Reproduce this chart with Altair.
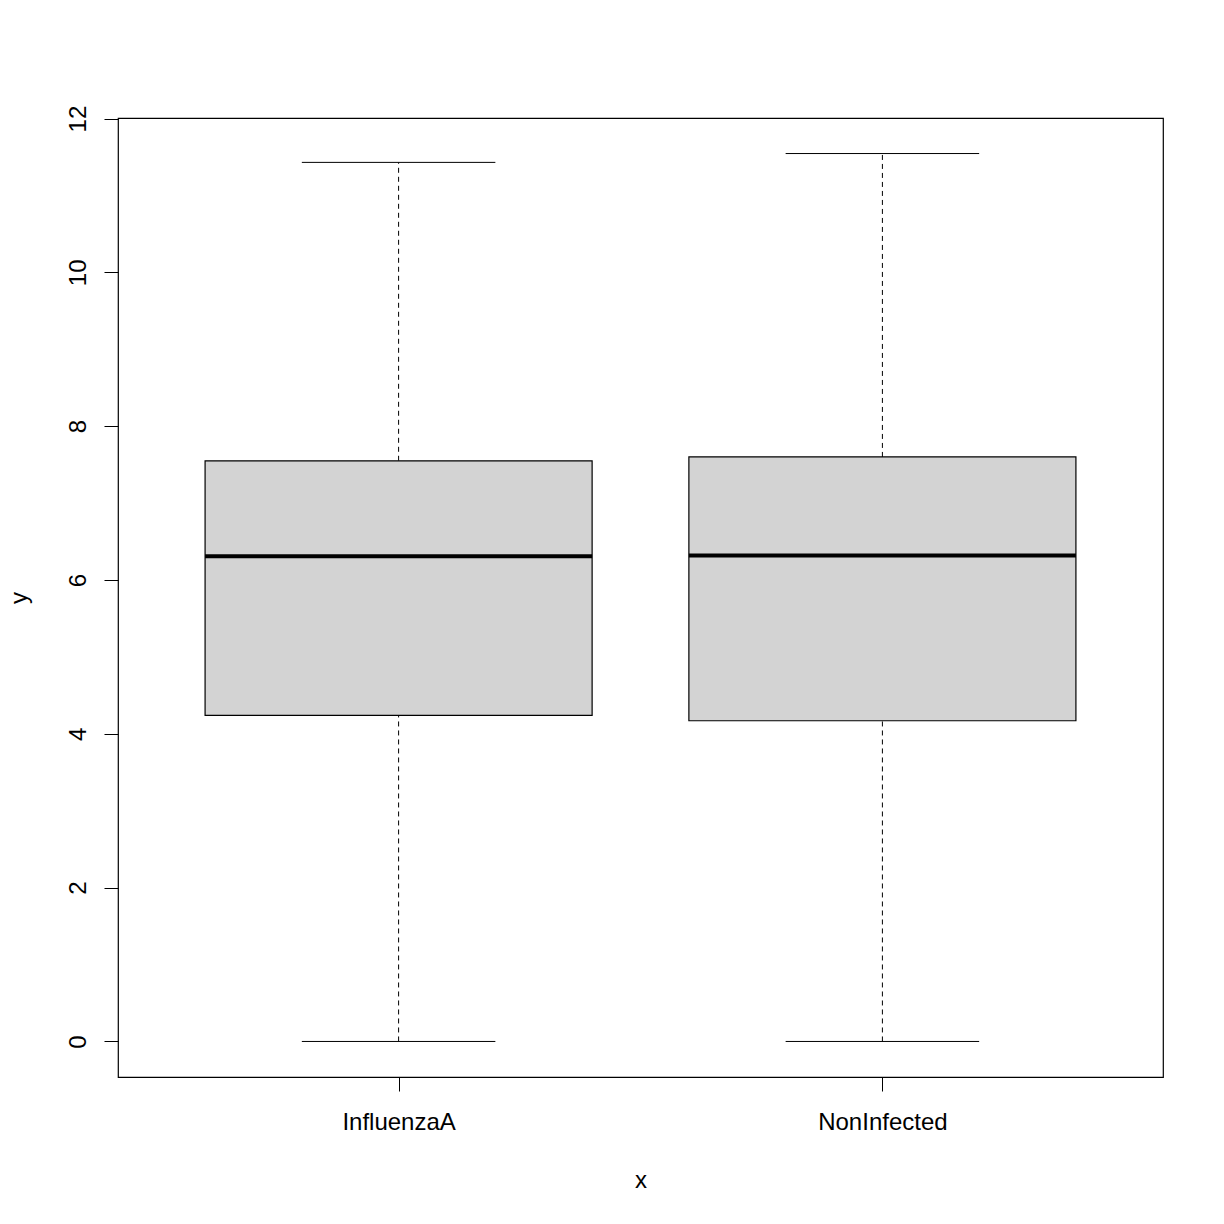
import altair as alt
import pandas as pd

categories = ["InfluenzaA", "NonInfected"]
positions = [1, 2]
whisker_low = [0.0, 0.0]
q1 = [4.24, 4.17]
medians = [6.31, 6.32]
q3 = [7.55, 7.60]
whisker_high = [11.43, 11.545]

df = pd.DataFrame({
    "cat": categories,
    "pos": positions,
    "lo": whisker_low,
    "q1": q1,
    "med": medians,
    "q3": q3,
    "hi": whisker_high,
})

FONT = "Liberation Sans"

xscale = alt.Scale(domain=[0.42, 2.58], nice=False, zero=False)
yscale = alt.Scale(domain=[-0.462, 12.007], nice=False, zero=False)

xaxis = alt.Axis(
    values=[1, 2],
    labelExpr="datum.value == 1 ? 'InfluenzaA' : 'NonInfected'",
    tickSize=14, tickColor="black", tickWidth=1,
    domain=False, grid=False,
    labelFont=FONT, labelFontSize=24, labelColor="black",
    labelBaseline="alphabetic", labelPadding=38, labelAlign="center",
    title="x", titleFont=FONT, titleFontSize=24, titleFontWeight="normal",
    titleColor="black", titleBaseline="alphabetic", titleAlign="center",
    titleX=522.5, titleY=110,
)
yaxis = alt.Axis(
    values=[0, 2, 4, 6, 8, 10, 12],
    format="d",
    tickSize=14, tickColor="black", tickWidth=1,
    domain=False, grid=False,
    labelFont=FONT, labelFontSize=24, labelColor="black",
    labelAngle=270, labelAlign="center", labelBaseline="alphabetic",
    labelPadding=19,
    title="y", titleFont=FONT, titleFontSize=24, titleFontWeight="normal",
    titleColor="black", titleAngle=270, titleBaseline="alphabetic",
    titleAlign="center", titleX=-92, titleY=479.5,
)

base = alt.Chart(df)

whisk_up = base.mark_rule(color="black", strokeWidth=1, strokeDash=[5, 4]).encode(
    x=alt.X("pos:Q", scale=xscale, axis=xaxis),
    y=alt.Y("q3:Q", scale=yscale, axis=yaxis),
    y2="hi:Q",
)
whisk_down = base.mark_rule(color="black", strokeWidth=1, strokeDash=[5, 4]).encode(
    x=alt.X("pos:Q", scale=xscale),
    y=alt.Y("lo:Q", scale=yscale),
    y2="q1:Q",
)
cap_hi = base.transform_calculate(
    cl="datum.pos - 0.2", cr="datum.pos + 0.2"
).mark_rule(color="black", strokeWidth=1).encode(
    x=alt.X("cl:Q", scale=xscale), x2="cr:Q", y=alt.Y("hi:Q", scale=yscale)
)
cap_lo = base.transform_calculate(
    cl="datum.pos - 0.2", cr="datum.pos + 0.2"
).mark_rule(color="black", strokeWidth=1).encode(
    x=alt.X("cl:Q", scale=xscale), x2="cr:Q", y=alt.Y("lo:Q", scale=yscale)
)
box = base.transform_calculate(
    bl="datum.pos - 0.4", br="datum.pos + 0.4"
).mark_rect(fill="#D3D3D3", stroke="black", strokeWidth=1.2).encode(
    x=alt.X("bl:Q", scale=xscale), x2="br:Q",
    y=alt.Y("q1:Q", scale=yscale), y2="q3:Q",
)
median = base.transform_calculate(
    bl="datum.pos - 0.4", br="datum.pos + 0.4"
).mark_rule(color="black", strokeWidth=4).encode(
    x=alt.X("bl:Q", scale=xscale), x2="br:Q", y=alt.Y("med:Q", scale=yscale)
)

chart = alt.layer(whisk_up, whisk_down, cap_hi, cap_lo, box, median).properties(
    width=1045, height=959,
    autosize=alt.AutoSizeParams(type="none"),
    padding={"left": 110, "top": 110, "right": 50, "bottom": 130},
    background="white",
).configure_view(stroke="black", strokeWidth=1.2, fill="white")

chart.save("out.html", embed_options={"renderer": "svg", "actions": False})
